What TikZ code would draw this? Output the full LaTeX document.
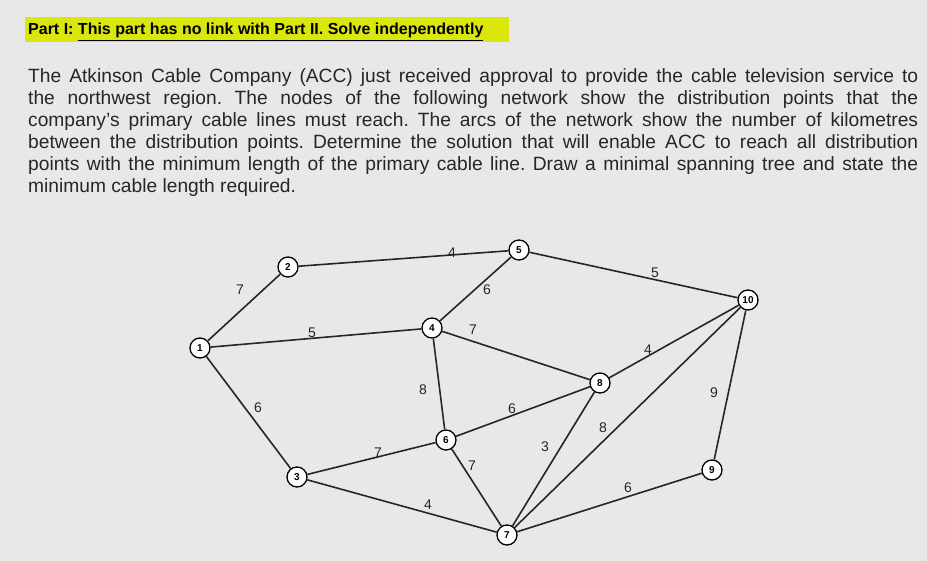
\documentclass[tikz,border=0pt]{standalone}
\usepackage{fontspec}
\setmainfont{Liberation Sans}
\begin{document}
\begin{tikzpicture}[x=1pt,y=-1pt,
  nd/.style={circle,draw=black,fill=white,line width=1.3pt,minimum size=20pt,inner sep=0pt,font=\fontsize{10}{10}\selectfont\bfseries},
  ed/.style={line width=1.6pt,draw=black!85},
  lb/.style={font=\fontsize{14}{14}\selectfont,text=black!85},
  ln/.style={anchor=base west,inner sep=0pt,font=\frenchspacing\fontsize{19.2}{20}\selectfont,text=black!85}]
\useasboundingbox (0,0) rectangle (927,561);
\fill[black!9] (0,0) rectangle (927,561);
\fill[yellow!85!green] (25,17) rectangle (509,42);
\node[anchor=base west,inner sep=0pt,font=\fontsize{16}{16}\selectfont\bfseries] (t) at (28,35) {Part I: \underline{This part has no link with Part II. Solve independently}};
\node[ln] (l1) at (28,83) {\makebox[890pt][s]{The Atkinson Cable Company (ACC) just received approval to provide the cable television service to}};
\node[ln] (l2) at (28,105) {\makebox[890pt][s]{the northwest region. The nodes of the following network show the distribution points that the}};
\node[ln] (l3) at (28,127) {\makebox[890pt][s]{company's primary cable lines must reach. The arcs of the network show the number of kilometres}};
\node[ln] (l4) at (28,149) {\makebox[890pt][s]{between the distribution points. Determine the solution that will enable ACC to reach all distribution}};
\node[ln] (l5) at (28,171) {\makebox[890pt][s]{points with the minimum length of the primary cable line. Draw a minimal spanning tree and state the}};
\node[ln] (l6) at (28,193) {minimum cable length required.};
\node[nd] (n1) at (200,348) {1};
\node[nd] (n2) at (288,267) {2};
\node[nd] (n3) at (297,477) {3};
\node[nd] (n4) at (432,328) {4};
\node[nd] (n5) at (519,250) {5};
\node[nd] (n6) at (446,440) {6};
\node[nd] (n7) at (507,535) {7};
\node[nd] (n8) at (600,383) {8};
\node[nd] (n9) at (712,470) {9};
\node[nd] (n10) at (748,300) {10};
\draw[ed] (n1)--(n2); \draw[ed] (n1)--(n4); \draw[ed] (n1)--(n3);
\draw[ed] (n2)--(n5); \draw[ed] (n5)--(n10); \draw[ed] (n5)--(n4);
\draw[ed] (n4)--(n8); \draw[ed] (n4)--(n6); \draw[ed] (n3)--(n6);
\draw[ed] (n3)--(n7); \draw[ed] (n6)--(n8); \draw[ed] (n6)--(n7);
\draw[ed] (n7)--(n8); \draw[ed] (n7)--(n10); \draw[ed] (n8)--(n10);
\draw[ed] (n10)--(n9); \draw[ed] (n7)--(n9);
\node[lb] (a) at (240,290) {7};
\node[lb] (b) at (312,333) {5};
\node[lb] (c) at (258,408) {6};
\node[lb] (d) at (452,253) {4};
\node[lb] (e) at (655,273) {5};
\node[lb] (f) at (487,290) {6};
\node[lb] (g) at (473,330) {7};
\node[lb] (h) at (423,390) {8};
\node[lb] (i) at (378,453) {7};
\node[lb] (j) at (428,505) {4};
\node[lb] (k) at (512,409) {6};
\node[lb] (l) at (472,466) {7};
\node[lb] (m) at (545,447) {3};
\node[lb] (o) at (603,428) {8};
\node[lb] (p) at (648,350) {4};
\node[lb] (q) at (714,393) {9};
\node[lb] (r) at (628,488) {6};
\end{tikzpicture}
\end{document}
